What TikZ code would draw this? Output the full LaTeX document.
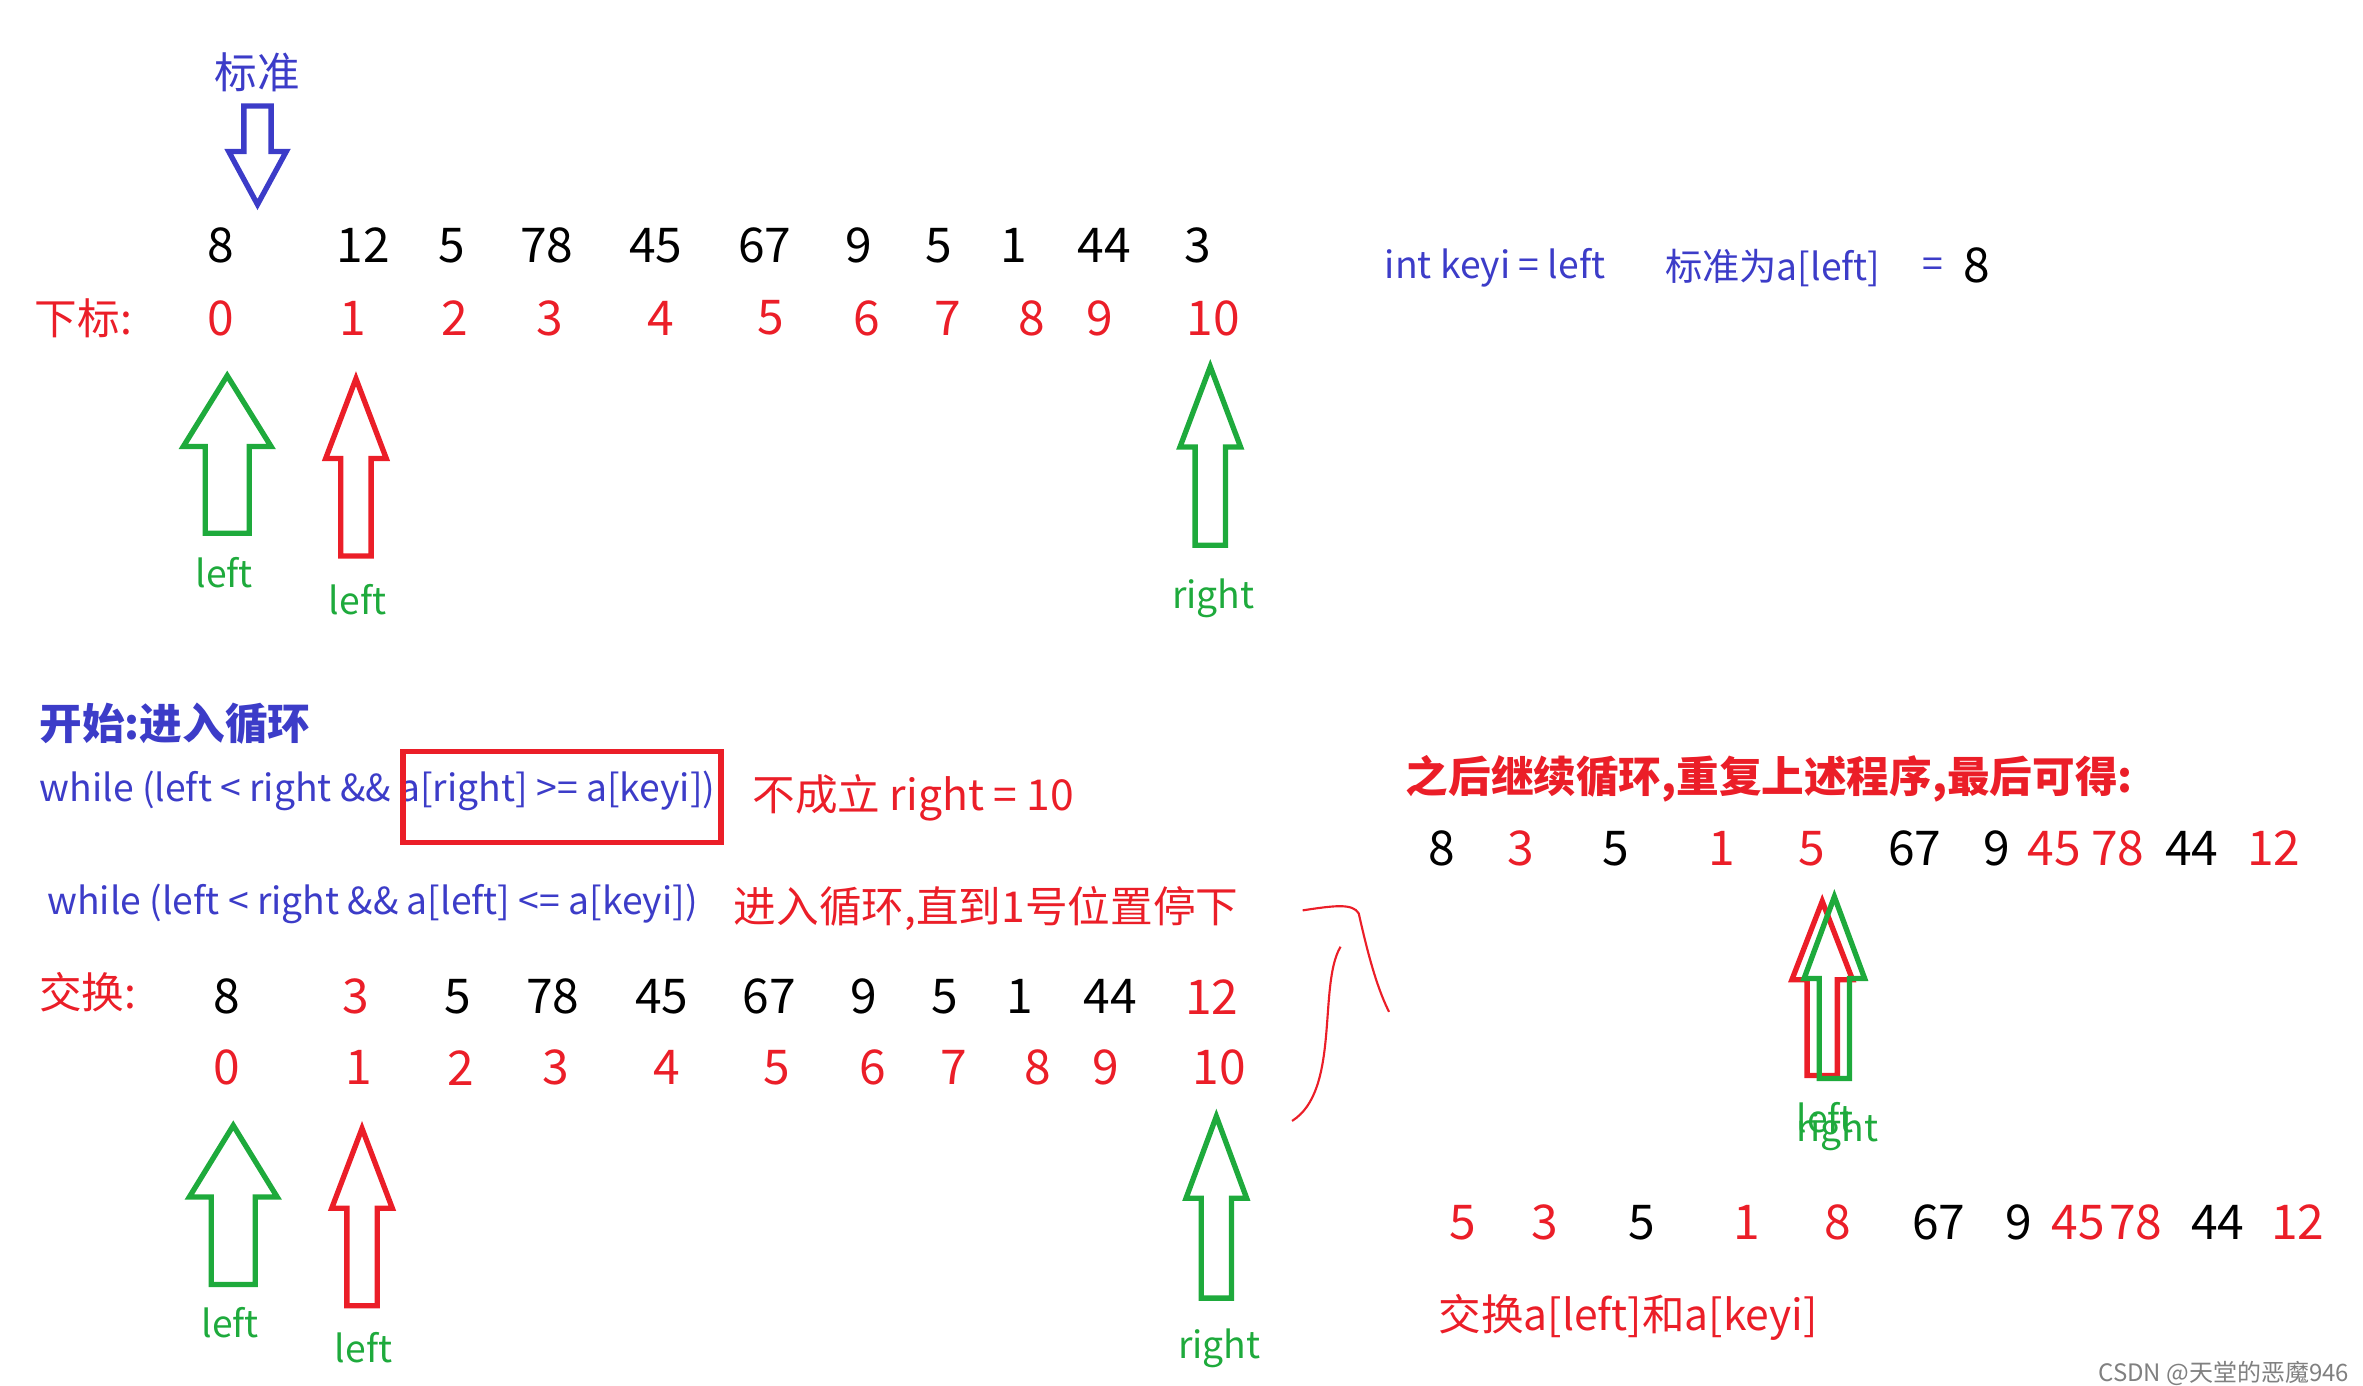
\documentclass[tikz,border=0pt]{standalone}
\usepackage{fontspec}
\setmainfont{Noto Sans CJK SC}
\definecolor{penblue}{RGB}{60,60,200}
\definecolor{penred}{RGB}{235,30,40}
\definecolor{pengreen}{RGB}{30,170,60}
\tikzset{
    num/.style={inner sep=1pt,font=\fontsize{9}{11}\selectfont},
    code/.style={inner sep=1pt,anchor=west,text=penblue,font=\fontsize{7}{9}\selectfont},
    note/.style={inner sep=1pt,text=penred,font=\fontsize{8}{10}\selectfont},
    tag/.style={inner sep=1pt,text=pengreen,font=\fontsize{7}{9}\selectfont},
}
% hollow up arrow: x, tip y, tail y, half head width, colour
\newcommand\uparr[5]{%
  \draw[#5,line width=1pt] ({#1-#4/2},#3) -- ({#1-#4/2},{#2+(#3-#2)*0.45})
    -- ({#1-#4},{#2+(#3-#2)*0.45}) -- (#1,#2) -- ({#1+#4},{#2+(#3-#2)*0.45})
    -- ({#1+#4/2},{#2+(#3-#2)*0.45}) -- ({#1+#4/2},#3) -- cycle;}
\begin{document}
\begin{tikzpicture}[x=0.01cm,y=-0.01cm]
\useasboundingbox (0,0) rectangle (1560,915);

% first row
\node[num,text=penblue,font=\fontsize{8}{10}\selectfont] (std) at (170,48) {标准};
\draw[penblue,line width=1pt] (161,70) -- (179,70) -- (179,100) -- (189,100) -- (170,135)
  -- (151,100) -- (161,100) -- cycle;
\foreach \x/\v [count=\i] in {146/8,240/12,298/5,361/78,433/45,505/67,567/9,620/5,669/1,729/44,791/3}
  \node[num] (a\i) at (\x,162) {\v};
\node[note] (idxlabel) at (55,210) {下标:};
\foreach \x/\v [count=\i] in {146/0,233/1,300/2,363/3,436/4,509/5,572/6,626/7,681/8,726/9,801/10}
  \node[num,text=penred] (ia\i) at (\x,210) {\v};
\uparr{150}{248}{352}{29}{pengreen}
\uparr{235}{250}{367}{20}{penred}
\uparr{799}{242}{360}{20}{pengreen}
\node[tag] (l1) at (148,378) {left};
\node[tag] (l2) at (236,396) {left};
\node[tag] (r1) at (801,395) {right};

\node[code] (keyi) at (910,177) {int keyi = left};
\node[code] (stdis) at (1095,177) {标准为a[left]};
\node[code] (eq) at (1265,177) {=};
\node[num] (eight) at (1305,175) {8};

% loop
\node[code,font=\bfseries\fontsize{8}{10}\selectfont] (start) at (22,478) {开始:进入循环};
\node[code] (w1) at (22,522) {while (left < right \&\& a[right] >= a[keyi])};
\draw[penred,line width=1pt] (266,496) rectangle (476,556);
\node[note] (fail) at (603,527) {不成立 right = 10};
\node[code] (w2) at (27,597) {while (left < right \&\& a[left] <= a[keyi])};
\node[note] (stop) at (651,600) {进入循环,直到1号位置停下};

% swap row
\node[note] (swap) at (58,655) {交换:};
\foreach \x/\v/\c [count=\i] in {150/8/black,235/3/penred,302/5/black,365/78/black,437/45/black,508/67/black,570/9/black,624/5/black,673/1/black,733/44/black,800/12/penred}
  \node[num,text=\c] (b\i) at (\x,658) {\v};
\foreach \x/\v [count=\i] in {150/0,237/1,304/2,367/3,440/4,513/5,576/6,630/7,685/8,730/9,805/10}
  \node[num,text=penred] (ib\i) at (\x,705) {\v};
\uparr{154}{743}{848}{29}{pengreen}
\uparr{239}{745}{862}{20}{penred}
\uparr{803}{737}{857}{20}{pengreen}
\node[tag] (l3) at (152,873) {left};
\node[tag] (l4) at (240,890) {left};
\node[tag] (r2) at (805,890) {right};

% scribble
\draw[penred] (860,601) .. controls (880,598) and (893,596) .. (897,603) .. controls (902,625) and (908,650) .. (917,668);
\draw[penred] (885,625) .. controls (870,650) and (885,720) .. (853,740);

% result
\node[note,font=\bfseries\fontsize{8}{10}\selectfont] (after) at (1168,514) {之后继续循环,重复上述程序,最后可得:};
\foreach \x/\v/\c [count=\i] in {952/8/black,1004/3/penred,1067/5/black,1137/1/penred,1196/5/penred,1264/67/black,1318/9/black,1356/45/penred,1398/78/penred,1447/44/black,1501/12/penred}
  \node[num,text=\c] (c\i) at (\x,560) {\v};
\uparr{1203}{595}{710}{20}{penred}
\uparr{1211}{592}{712}{20}{pengreen}
\node[tag] (l5) at (1205,738) {left};
\node[tag] (r3) at (1213,747) {right};
\foreach \x/\v/\c [count=\i] in {966/5/penred,1020/3/penred,1084/5/black,1153/1/penred,1213/8/penred,1280/67/black,1333/9/black,1372/45/penred,1410/78/penred,1464/44/black,1517/12/penred}
  \node[num,text=\c] (d\i) at (\x,807) {\v};
\node[note] (swapkey) at (1075,870) {交换a[left]和a[keyi]};
\node[inner sep=1pt,anchor=east,text=gray,font=\fontsize{4.5}{6}\selectfont] (mark) at (1555,907) {CSDN @天堂的恶魔946};
\end{tikzpicture}
\end{document}
